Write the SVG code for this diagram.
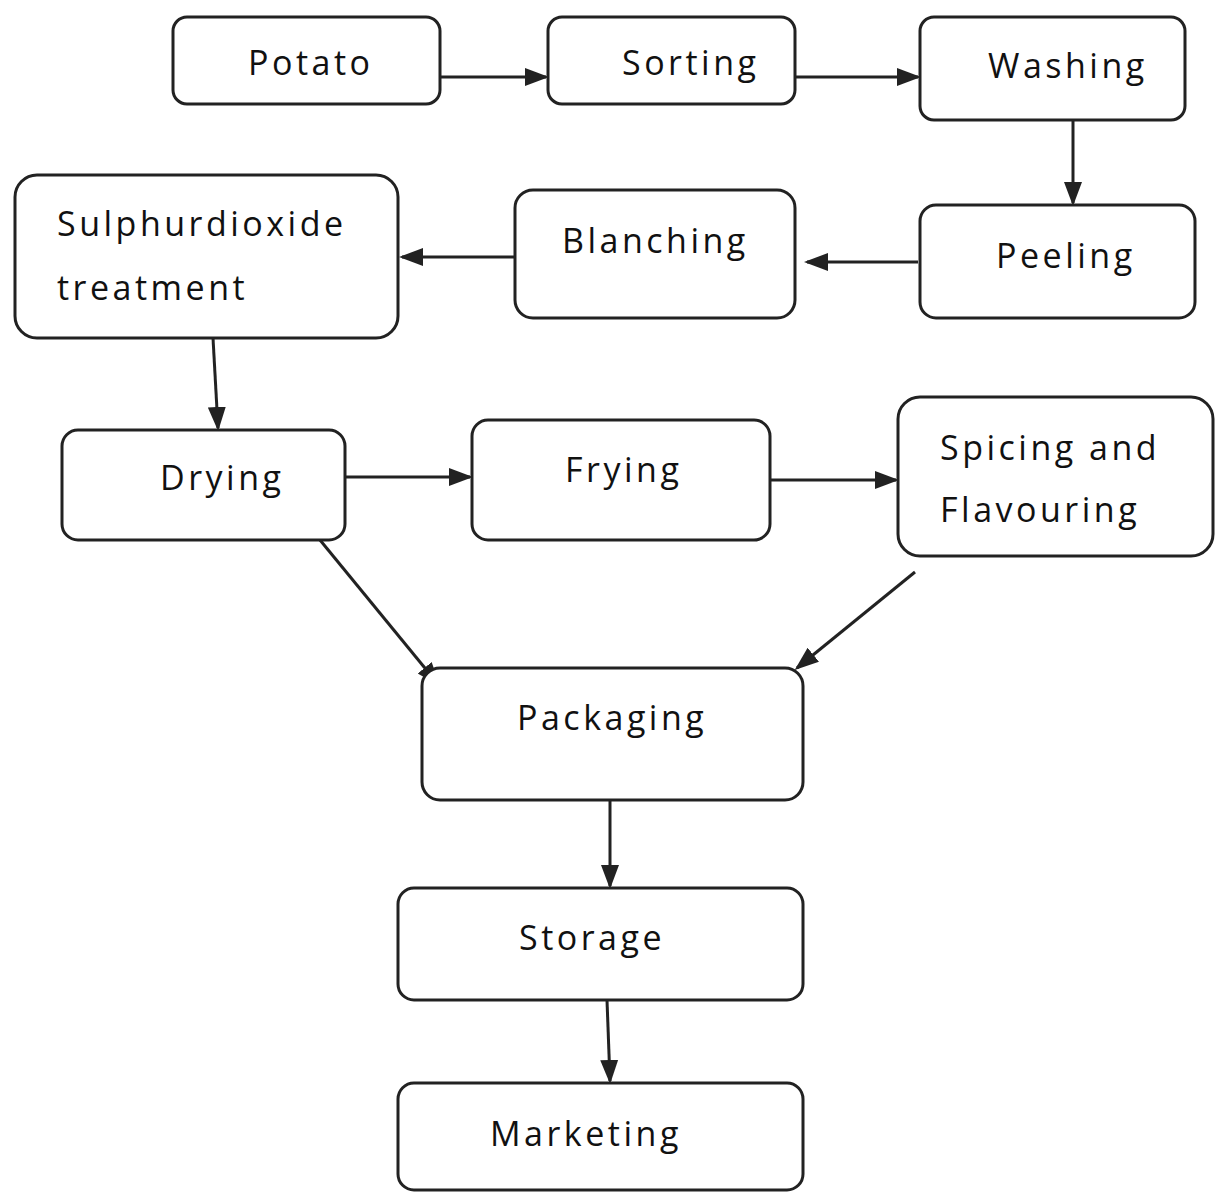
<svg xmlns="http://www.w3.org/2000/svg" width="1223" height="1192" viewBox="0 0 1223 1192">
<style>
.n rect{fill:#fff;stroke:#222;stroke-width:3}
.n text{font-family:"Open Sans","DejaVu Sans",sans-serif;font-size:34px;fill:#111;letter-spacing:3.5px}
.c line{stroke:#222;stroke-width:3;marker-end:url(#a)}
</style>
<defs><marker id="a" markerWidth="8" markerHeight="8" refX="7" refY="4" orient="auto" markerUnits="strokeWidth"><path d="M0,1 L8,4 L0,7 Z" fill="#222"/></marker></defs>
<rect width="1223" height="1192" fill="#fff"/>
<g class="c">
<line x1="440" y1="77" x2="546" y2="77"/>
<line x1="795" y1="77" x2="918" y2="77"/>
<line x1="1073" y1="120" x2="1073" y2="203"/>
<line x1="918" y1="262" x2="807" y2="262"/>
<line x1="515" y1="257" x2="402" y2="257"/>
<line x1="213" y1="338" x2="218" y2="428"/>
<line x1="345" y1="477" x2="470" y2="477"/>
<line x1="770" y1="480" x2="896" y2="480"/>
<line x1="320" y1="540" x2="438" y2="684"/>
<line x1="915" y1="572" x2="797" y2="668"/>
<line x1="610" y1="800" x2="610" y2="886"/>
<line x1="607" y1="1000" x2="610" y2="1081"/>
</g>
<g id="potato" class="n"><rect x="173" y="17" width="267" height="87" rx="14"/><text x="248" y="75">Potato</text></g>
<g id="sorting" class="n"><rect x="548" y="17" width="247" height="87" rx="14"/><text x="622" y="75">Sorting</text></g>
<g id="washing" class="n"><rect x="920" y="17" width="265" height="103" rx="14"/><text x="988" y="78">Washing</text></g>
<g id="peeling" class="n"><rect x="920" y="205" width="275" height="113" rx="16"/><text x="996" y="268">Peeling</text></g>
<g id="blanching" class="n"><rect x="515" y="190" width="280" height="128" rx="18"/><text x="562" y="253">Blanching</text></g>
<g id="sulphur" class="n"><rect x="15" y="175" width="383" height="163" rx="22"/><text x="57" y="236">Sulphurdioxide</text><text x="57" y="300">treatment</text></g>
<g id="drying" class="n"><rect x="62" y="430" width="283" height="110" rx="16"/><text x="160" y="490">Drying</text></g>
<g id="frying" class="n"><rect x="472" y="420" width="298" height="120" rx="16"/><text x="565" y="482">Frying</text></g>
<g id="spicing" class="n"><rect x="898" y="397" width="315" height="159" rx="22"/><text x="940" y="460">Spicing and</text><text x="940" y="522">Flavouring</text></g>
<g id="packaging" class="n"><rect x="422" y="668" width="381" height="132" rx="18"/><text x="517" y="730">Packaging</text></g>
<g id="storage" class="n"><rect x="398" y="888" width="405" height="112" rx="16"/><text x="519" y="950">Storage</text></g>
<g id="marketing" class="n"><rect x="398" y="1083" width="405" height="107" rx="16"/><text x="490" y="1146">Marketing</text></g>
</svg>
